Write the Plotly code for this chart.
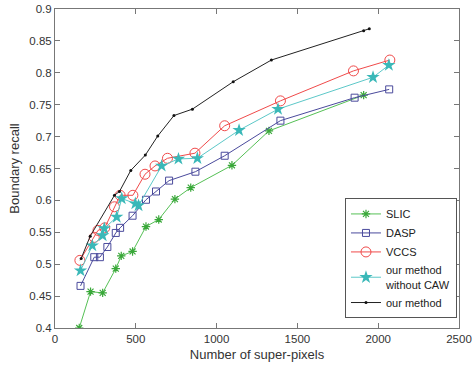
import plotly.graph_objects as go

slic_x = [150, 220, 295, 376, 410, 480, 563, 642, 742, 840, 1095, 1324, 1910]
slic_y = [0.400, 0.457, 0.455, 0.493, 0.513, 0.520, 0.559, 0.570, 0.602, 0.620, 0.655, 0.709, 0.765]

dasp_x = [158, 243, 278, 324, 376, 403, 480, 563, 625, 706, 869, 1050, 1395, 1854, 2068]
dasp_y = [0.466, 0.511, 0.511, 0.527, 0.549, 0.557, 0.576, 0.601, 0.614, 0.631, 0.645, 0.670, 0.725, 0.761, 0.774]

vccs_x = [154, 243, 266, 308, 368, 403, 482, 557, 619, 696, 866, 1050, 1395, 1847, 2072]
vccs_y = [0.506, 0.542, 0.553, 0.557, 0.590, 0.608, 0.608, 0.641, 0.654, 0.666, 0.674, 0.717, 0.756, 0.803, 0.820]

nocaw_x = [158, 231, 295, 305, 382, 413, 497, 517, 660, 764, 881, 1139, 1380, 1968, 2066]
nocaw_y = [0.490, 0.529, 0.545, 0.556, 0.574, 0.603, 0.595, 0.592, 0.654, 0.665, 0.666, 0.710, 0.743, 0.793, 0.812]

ours_x = [162, 218, 368, 399, 469, 559, 636, 736, 850, 1103, 1339, 1910, 1945]
ours_y = [0.509, 0.544, 0.608, 0.614, 0.647, 0.671, 0.701, 0.733, 0.743, 0.786, 0.820, 0.866, 0.869]

x_ticks = [0, 500, 1000, 1500, 2000, 2500]
y_ticks = [0.4, 0.45, 0.5, 0.55, 0.6, 0.65, 0.7, 0.75, 0.8, 0.85, 0.9]
y_tick_text = ["0.4", "0.45", "0.5", "0.55", "0.6", "0.65", "0.7", "0.75", "0.8", "0.85", "0.9"]

fig = go.Figure()
fig.add_trace(go.Scatter(x=slic_x, y=slic_y, name="SLIC", mode="lines+markers",
                         line=dict(color="#55c055", width=1),
                         marker=dict(symbol="asterisk-open", size=7, color="#3aa83a",
                                     line=dict(color="#3aa83a", width=1.2))))
fig.add_trace(go.Scatter(x=dasp_x, y=dasp_y, name="DASP", mode="lines+markers",
                         line=dict(color="#4a4a9c", width=1),
                         marker=dict(symbol="square-open", size=7, color="#4a4a9c",
                                     line=dict(color="#4a4a9c", width=1))))
fig.add_trace(go.Scatter(x=vccs_x, y=vccs_y, name="VCCS", mode="lines+markers",
                         line=dict(color="#f04a4a", width=1),
                         marker=dict(symbol="circle-open", size=10, color="#f04a4a",
                                     line=dict(color="#f04a4a", width=1))))
fig.add_trace(go.Scatter(x=nocaw_x, y=nocaw_y, name="our method<br>without CAW", mode="lines+markers",
                         line=dict(color="#5cc8c8", width=1),
                         marker=dict(symbol="star", size=10, color="#3ab8b8",
                                     line=dict(width=0))))
fig.add_trace(go.Scatter(x=ours_x, y=ours_y, name="our method", mode="lines+markers",
                         line=dict(color="#222222", width=1),
                         marker=dict(symbol="circle", size=3, color="#111111")))

axis_common = dict(showline=True, linecolor="#777777", linewidth=1, mirror="ticks",
                   ticks="inside", ticklen=5, tickcolor="#777777", showgrid=False,
                   zeroline=False, automargin=False,
                   tickfont=dict(size=11.5, color="#333333"))

fig.update_layout(
    width=474, height=368,
    margin=dict(l=55, r=15, t=9, b=40),
    paper_bgcolor="white", plot_bgcolor="white",
    font=dict(family="Liberation Sans, Arial, sans-serif", color="#333333"),
    xaxis=dict(range=[0, 2500], tickvals=x_ticks,
               title=dict(text="Number of super-pixels", font=dict(size=13), standoff=6),
               **axis_common),
    yaxis=dict(range=[0.4, 0.9], tickvals=y_ticks, ticktext=y_tick_text,
               title=dict(text="Boundary recall", font=dict(size=13), standoff=6),
               **axis_common),
    legend=dict(x=0.995, y=0.03, xanchor="right", yanchor="bottom",
                bordercolor="#555555", borderwidth=1, bgcolor="white",
                font=dict(size=11, color="#222222"), tracegroupgap=0,
                itemwidth=30),
    showlegend=True,
)

fig.write_html("out.html", config={"displayModeBar": False},
               post_script="document.body.style.margin='0';")
